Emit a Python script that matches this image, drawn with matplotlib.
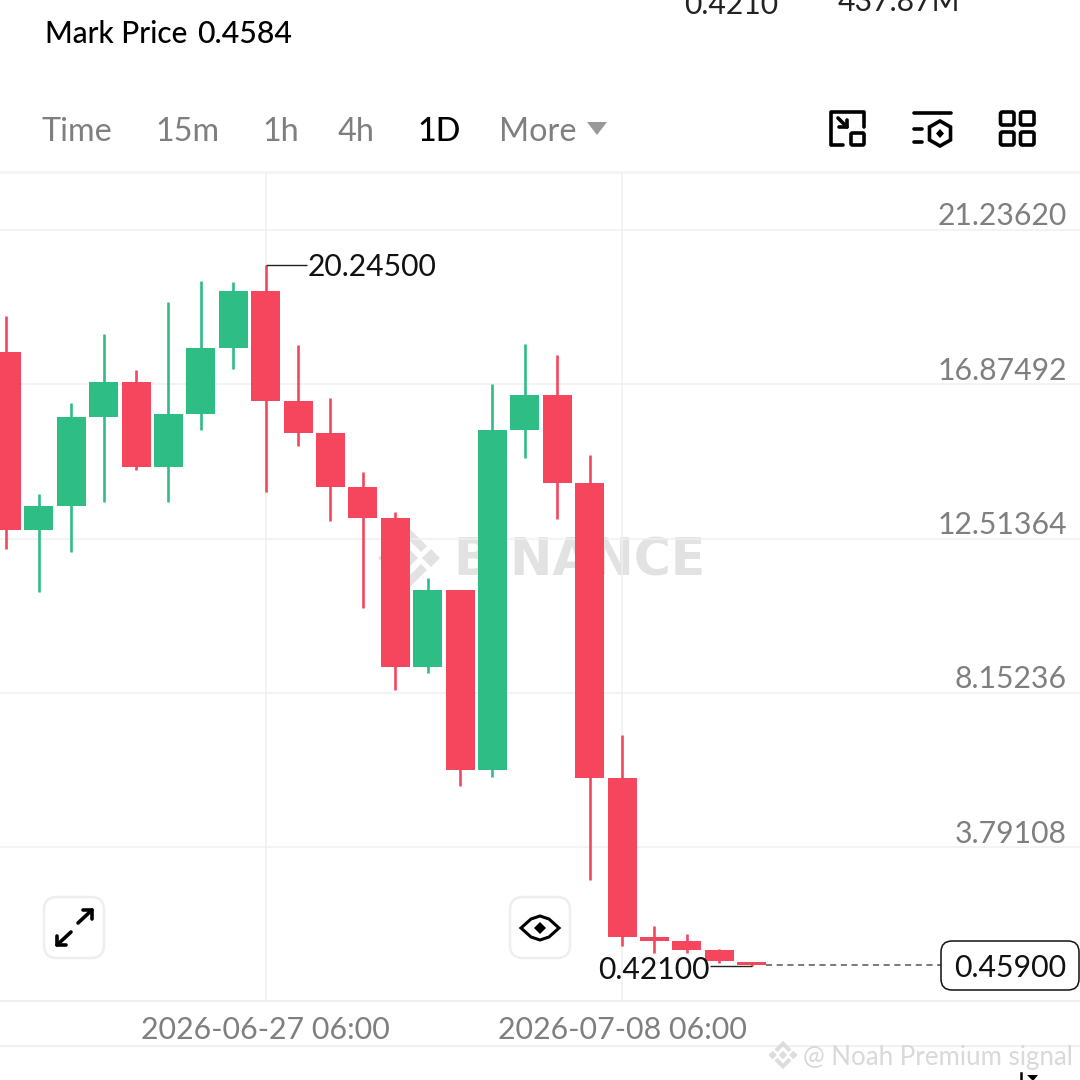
import matplotlib.pyplot as plt
from matplotlib.patches import FancyBboxPatch, Polygon, Rectangle

plt.rcParams["font.family"] = ["Lato", "DejaVu Sans"]

OUT_CHART = "out.png"

RED = "#F6465D"
GREEN = "#2EBD85"
GRID = "#F0F0F0"
GREY = "#7F7F7F"

OPENS = [17.788, 12.757, 13.435, 15.950, 16.940, 14.537, 16.035, 17.901, 19.512, 16.403,
         15.498, 13.972, 13.096, 8.884, 11.061, 5.973, 15.583, 16.572, 14.085, 5.747,
         1.253, 1.140, 0.885, 0.546]
HIGHS = [18.805, 13.774, 16.346, 18.296, 17.279, 19.201, 19.795, 19.766, 20.245, 17.986,
         16.488, 14.396, 13.265, 11.400, 11.061, 16.883, 18.014, 17.703, 14.876, 6.962,
         1.564, 1.337, 0.914, 0.546]
LOWS = [12.220, 11.004, 12.135, 13.548, 14.452, 13.548, 15.583, 17.307, 13.831, 15.131,
        13.011, 10.552, 8.234, 8.715, 5.521, 5.775, 14.792, 13.067, 2.864, 0.998,
        0.800, 0.800, 0.518, 0.421]
CLOSES = [12.757, 13.435, 15.950, 16.940, 14.537, 16.035, 17.901, 19.512, 16.403, 15.498,
          13.972, 13.096, 8.884, 11.061, 5.973, 15.583, 16.572, 14.085, 5.747, 1.253,
          1.140, 0.885, 0.574, 0.459]

PRICE_TICKS = [21.2362, 16.87492, 12.51364, 8.15236, 3.79108]
PRICE_LABELS = ["21.23620", "16.87492", "12.51364", "8.15236", "3.79108"]
DATE_TICKS = [8, 19]
DATE_LABELS = ["2026-06-27 06:00", "2026-07-08 06:00"]
TABS = ["Time", "15m", "1h", "4h", "1D", "More"]
TAB_LEFT = [42, 155, 262, 338, 417, 499]

HIGH_VALUE = 20.245
LOW_VALUE = 0.421
LAST_VALUE = 0.459

fig = plt.figure(figsize=(10.8, 10.8), dpi=100, facecolor="white")


def px_axes(zorder):
    a = fig.add_axes([0, 0, 1, 1], zorder=zorder)
    a.set_xlim(0, 1080)
    a.set_ylim(1080, 0)
    a.axis("off")
    a.patch.set_alpha(0)
    return a


def binance_logo(a, cx, cy, s, color, zorder=1):
    shapes = [
        [(-31, 0), (-22, -9), (-13, 0), (-22, 9)],
        [(-9, 0), (0, -9), (9, 0), (0, 9)],
        [(13, 0), (22, -9), (31, 0), (22, 9)],
        [(-18, -12), (0, -30), (18, -12), (12, -6), (0, -18), (-12, -6)],
        [(-18, 12), (-12, 6), (0, 18), (12, 6), (18, 12), (0, 30)],
    ]
    for pts in shapes:
        a.add_patch(Polygon([(cx + s * px, cy + s * py) for px, py in pts], closed=True,
                            facecolor=color, edgecolor="none", zorder=zorder))


# watermark sits under the candles
back = px_axes(0)
wm = "#E2E2E2"
back.text(453, 562, "BINANCE", fontsize=36.4, fontweight="bold", color=wm,
          family="DejaVu Sans", va="center", ha="left")
binance_logo(back, 409, 558, 1.0, wm)

# price chart, x in candle index
ax = fig.add_axes([0, 79 / 1080, 1, 829 / 1080], zorder=1)
ax.patch.set_alpha(0)
ax.set_xlim(-0.2, 33.133)
ax.set_ylim(-0.556, 22.875)
for side in ["left", "right"]:
    ax.spines[side].set_visible(False)
ax.spines["top"].set_color("#F4F4F4")
ax.spines["top"].set_linewidth(2)
ax.spines["bottom"].set_color(GRID)
ax.spines["bottom"].set_linewidth(1.5)
ax.set_yticks(PRICE_TICKS)
ax.set_yticklabels([])
ax.set_xticks(DATE_TICKS)
ax.set_xticklabels(DATE_LABELS, fontsize=21.9, color=GREY)
ax.tick_params(axis="both", length=0)
ax.tick_params(axis="x", pad=11)
ax.grid(True, color=GRID, linewidth=1.1)
ax.set_axisbelow(True)

for i, (o, h, l, c) in enumerate(zip(OPENS, HIGHS, LOWS, CLOSES)):
    color = GREEN if c >= o else RED
    ax.vlines(i, l, h, color=color, linewidth=1.9, zorder=3)
    ax.add_patch(Rectangle((i - 0.45, min(o, c)), 0.9, max(abs(o - c), 0.06),
                           facecolor=color, edgecolor="none", zorder=4))

for price, label in zip(PRICE_TICKS, PRICE_LABELS):
    ax.annotate(label, (1067 / 1080, price), xycoords=("axes fraction", "data"),
                xytext=(0, 9.8), textcoords="offset points", ha="right", va="center",
                fontsize=21.7, color=GREY)

# high / low / last price markers
ax.hlines(HIGH_VALUE, 8, 9.28, color="#222222", linewidth=1, zorder=5)
ax.annotate(f"{HIGH_VALUE:.5f}", (9.3, HIGH_VALUE), xytext=(0, -1.6), textcoords="offset points",
            ha="left", va="center", fontsize=21.7, color="#111111", zorder=6)
ax.hlines(LOW_VALUE, 21.7, 23, color="#222222", linewidth=1, zorder=5)
ax.annotate(f"{LOW_VALUE:.5f}", (21.69, LOW_VALUE), xytext=(0, -2.4), textcoords="offset points",
            ha="right", va="center", fontsize=21.7, color="#111111", zorder=6)
ax.hlines(LAST_VALUE, 23.45, 28.83, color="#555555", linewidth=1.1, linestyles=(0, (4, 3)), zorder=5)

# toolbar, buttons and other screen furniture
ui = px_axes(2)
ui.text(45, 34, "Mark Price", fontsize=21.4, color="black", fontweight="medium", va="center")
ui.text(197, 34, "0.4584", fontsize=21.8, color="black", fontweight="medium", va="center")
ui.text(684, 5, "0.4210", fontsize=21.7, color="#222222", va="center")
ui.text(838, 2, "437.87M", fontsize=21.7, color="#222222", va="center")

for name, left in zip(TABS, TAB_LEFT):
    active = name == "1D"
    ui.text(left, 132, name, fontsize=23.3, va="center", ha="left",
            color="black" if active else GREY, fontweight="medium" if active else "normal")
ui.add_patch(Polygon([(587, 122), (607, 122), (597, 135)], closed=True, facecolor="#999999", edgecolor="none"))

BLK = dict(color="black", linewidth=2.6, solid_capstyle="round", solid_joinstyle="round")
ui.plot([864, 864, 830.5, 830.5, 843], [127, 111.5, 111.5, 145, 145], **BLK)
ui.add_patch(FancyBboxPatch((851, 133), 13, 12, boxstyle="round,pad=0,rounding_size=1.5",
                            facecolor="none", edgecolor="black", linewidth=2.6))
ui.plot([838, 847], [118, 127], **BLK)
ui.plot([847, 847, 839], [120, 127, 127], **BLK)
ui.plot([914, 951], [113, 113], **BLK)
ui.plot([914, 922], [129, 129], **BLK)
ui.plot([914, 922], [142, 142], **BLK)
ui.add_patch(Polygon([(940, 121), (950.5, 127), (950.5, 140), (940, 146), (929.5, 140), (929.5, 127)], closed=True,
                     facecolor="none", edgecolor="black", linewidth=2.6))
ui.add_patch(Polygon([(940, 129), (944, 133.5), (940, 138), (936, 133.5)], closed=True, facecolor="black"))
for bx in [1000.5, 1020.5]:
    for by in [112, 132]:
        ui.add_patch(FancyBboxPatch((bx, by), 13.5, 13, boxstyle="round,pad=0,rounding_size=2",
                                    facecolor="none", edgecolor="black", linewidth=2.6))

for left in [44, 510]:
    ui.add_patch(FancyBboxPatch((left, 897), 60, 61, boxstyle="round,pad=0,rounding_size=13",
                                facecolor="white", edgecolor="#EEEEEE", linewidth=1.8))
ui.plot([78, 92], [923, 910], **BLK)
ui.plot([83, 92, 92], [910, 910, 919], **BLK)
ui.plot([71, 57], [932, 945], **BLK)
ui.plot([57, 57, 66], [936, 945, 945], **BLK)
ui.add_patch(Polygon([(521, 928), (531, 919), (540, 916), (549, 919), (559, 928), (549, 937), (540, 940), (531, 937)],
                     closed=True, facecolor="none", edgecolor="black", linewidth=2.2))
ui.add_patch(Polygon([(534, 928), (540, 922), (546, 928), (540, 934)], closed=True, facecolor="black"))

ui.add_patch(FancyBboxPatch((941, 941), 138, 49, boxstyle="round,pad=0,rounding_size=11",
                            facecolor="white", edgecolor="#111111", linewidth=1.1))
ui.text(1010.5, 968, f"{LAST_VALUE:.5f}", fontsize=21.8, color="#111111", ha="center", va="center")

ui.plot([0, 1080], [1046, 1046], color=GRID, linewidth=1.3)
ui.text(803, 1057, "@ Noah Premium signal", fontsize=18.6, color="#D9D9D9", ha="left", va="center", zorder=5)
binance_logo(ui, 783, 1055, 0.47, "#DDDDDD", zorder=5)
ui.plot([1021, 1021], [1073, 1080], color="black", linewidth=1.8)
ui.add_patch(Polygon([(1027, 1075), (1038, 1075), (1033, 1081)], closed=True, facecolor="black"))

fig.savefig(OUT_CHART, dpi=100)
